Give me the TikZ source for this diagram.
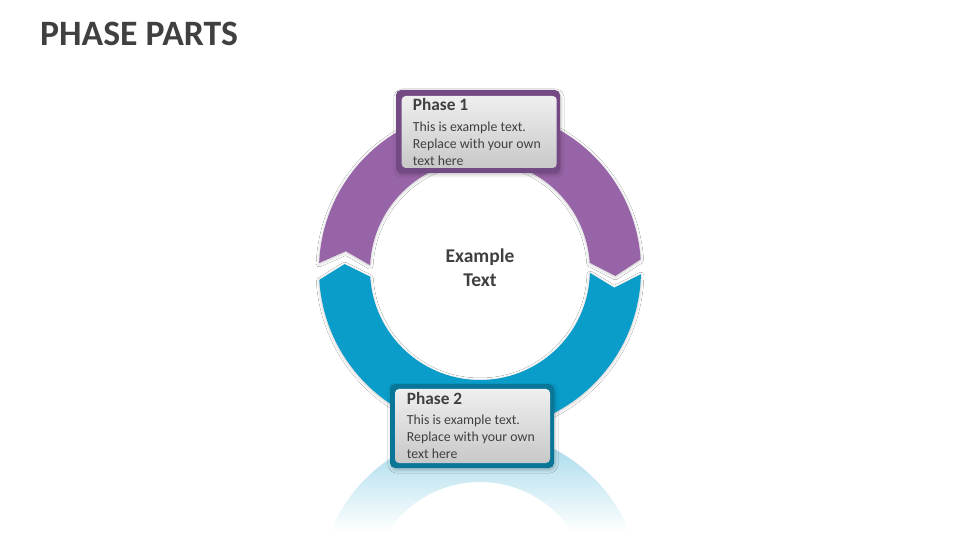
\documentclass[tikz,border=0pt]{standalone}
\usepackage{fontspec}
\setmainfont{Carlito}
\usetikzlibrary{shadows.blur}
\definecolor{ringpurple}{HTML}{9864A8}
\definecolor{ringblue}{HTML}{0A9DCA}
\definecolor{edgepurple}{HTML}{744A85}
\definecolor{edgeblue}{HTML}{097698}
\definecolor{txt}{HTML}{404040}
\definecolor{reflblue}{HTML}{9DD6E9}
\definecolor{paneltop}{HTML}{EFEFEF}
\definecolor{panelbot}{HTML}{C8C8C8}
\tikzset{
  ringseg/.style={blur shadow={shadow xshift=0pt, shadow yshift=-1pt, shadow blur radius=3pt, shadow opacity=22}},
  outerbox/.style={rounded corners=5pt, minimum width=164pt, inner sep=0pt,
    blur shadow={shadow xshift=1pt, shadow yshift=-2pt, shadow blur radius=3pt, shadow opacity=22}},
  panel/.style={rounded corners=4pt, minimum width=155pt, inner sep=0pt,
    top color=paneltop, bottom color=panelbot},
  boxtitle/.style={anchor=base west, inner sep=0pt, text=txt, font=\fontsize{17.3}{20}\selectfont\bfseries},
  boxbody/.style={anchor=base west, inner sep=0pt, text=txt},
}
\newcommand{\bodytext}{\parbox[t]{150pt}{\raggedright\fontsize{13.8}{16.7}\selectfont This is example text.\\Replace with your own\\text here}}
\begin{document}
\begin{tikzpicture}[x=1pt,y=1pt]
\useasboundingbox (-480,-270) rectangle (480,270);
\fill[white] (-480,-270) rectangle (480,270);

% title
\node[anchor=base west, inner sep=0pt, text=txt, font=\fontsize{35.7}{40}\selectfont\bfseries] (title) at (-440,224.3) {PHASE PARTS};

% reflection of the lower (blue) part
\begin{scope}[shift={(0,-322)}]
  \clip (176.5:161) arc[start angle=176.5, end angle=1.5, radius=161]
        -- (1.5:110) arc[start angle=1.5, end angle=176.5, radius=110] -- cycle;
  \shade[top color=reflblue, bottom color=white] (-200,161) rectangle (200,60);
\end{scope}

% ring
\path[ringseg, fill=ringpurple] (3.8:161) arc[start angle=3.8, end angle=177.5, radius=161]
   -- (172:135.5) -- (177.5:110) arc[start angle=177.5, end angle=3.8, radius=110]
   -- (-2.5:135.5) -- cycle;
\path[ringseg, fill=ringblue] (183.5:161) arc[start angle=183.5, end angle=358.5, radius=161]
   -- (352.5:135.5) -- (358.5:110) arc[start angle=358.5, end angle=183.5, radius=110]
   -- (177.5:135.5) -- cycle;

% centre text
\node[anchor=base, inner sep=0pt, text=txt] (centre) at (0,7)
  {\parbox[t]{100pt}{\centering\fontsize{19.5}{24}\selectfont\bfseries Example\\Text}};

% Phase 1 box
\node[outerbox, fill=edgepurple, minimum height=83pt] (p1box) at (-2,138.5) {};
\node[panel, minimum height=72pt] (p1panel) at (-0.8,138) {};
\node[boxtitle] (p1title) at (-67.3,159) {Phase 1};
\node[boxbody] (p1body) at (-67.3,138.3) {\bodytext};

% Phase 2 box
\node[outerbox, fill=edgeblue, minimum height=84pt] (p2box) at (-8,-156) {};
\node[panel, minimum height=74pt] (p2panel) at (-7.5,-156) {};
\node[boxtitle] (p2title) at (-73.3,-134.7) {Phase 2};
\node[boxbody] (p2body) at (-73.3,-154.7) {\bodytext};
\end{tikzpicture}
\end{document}
